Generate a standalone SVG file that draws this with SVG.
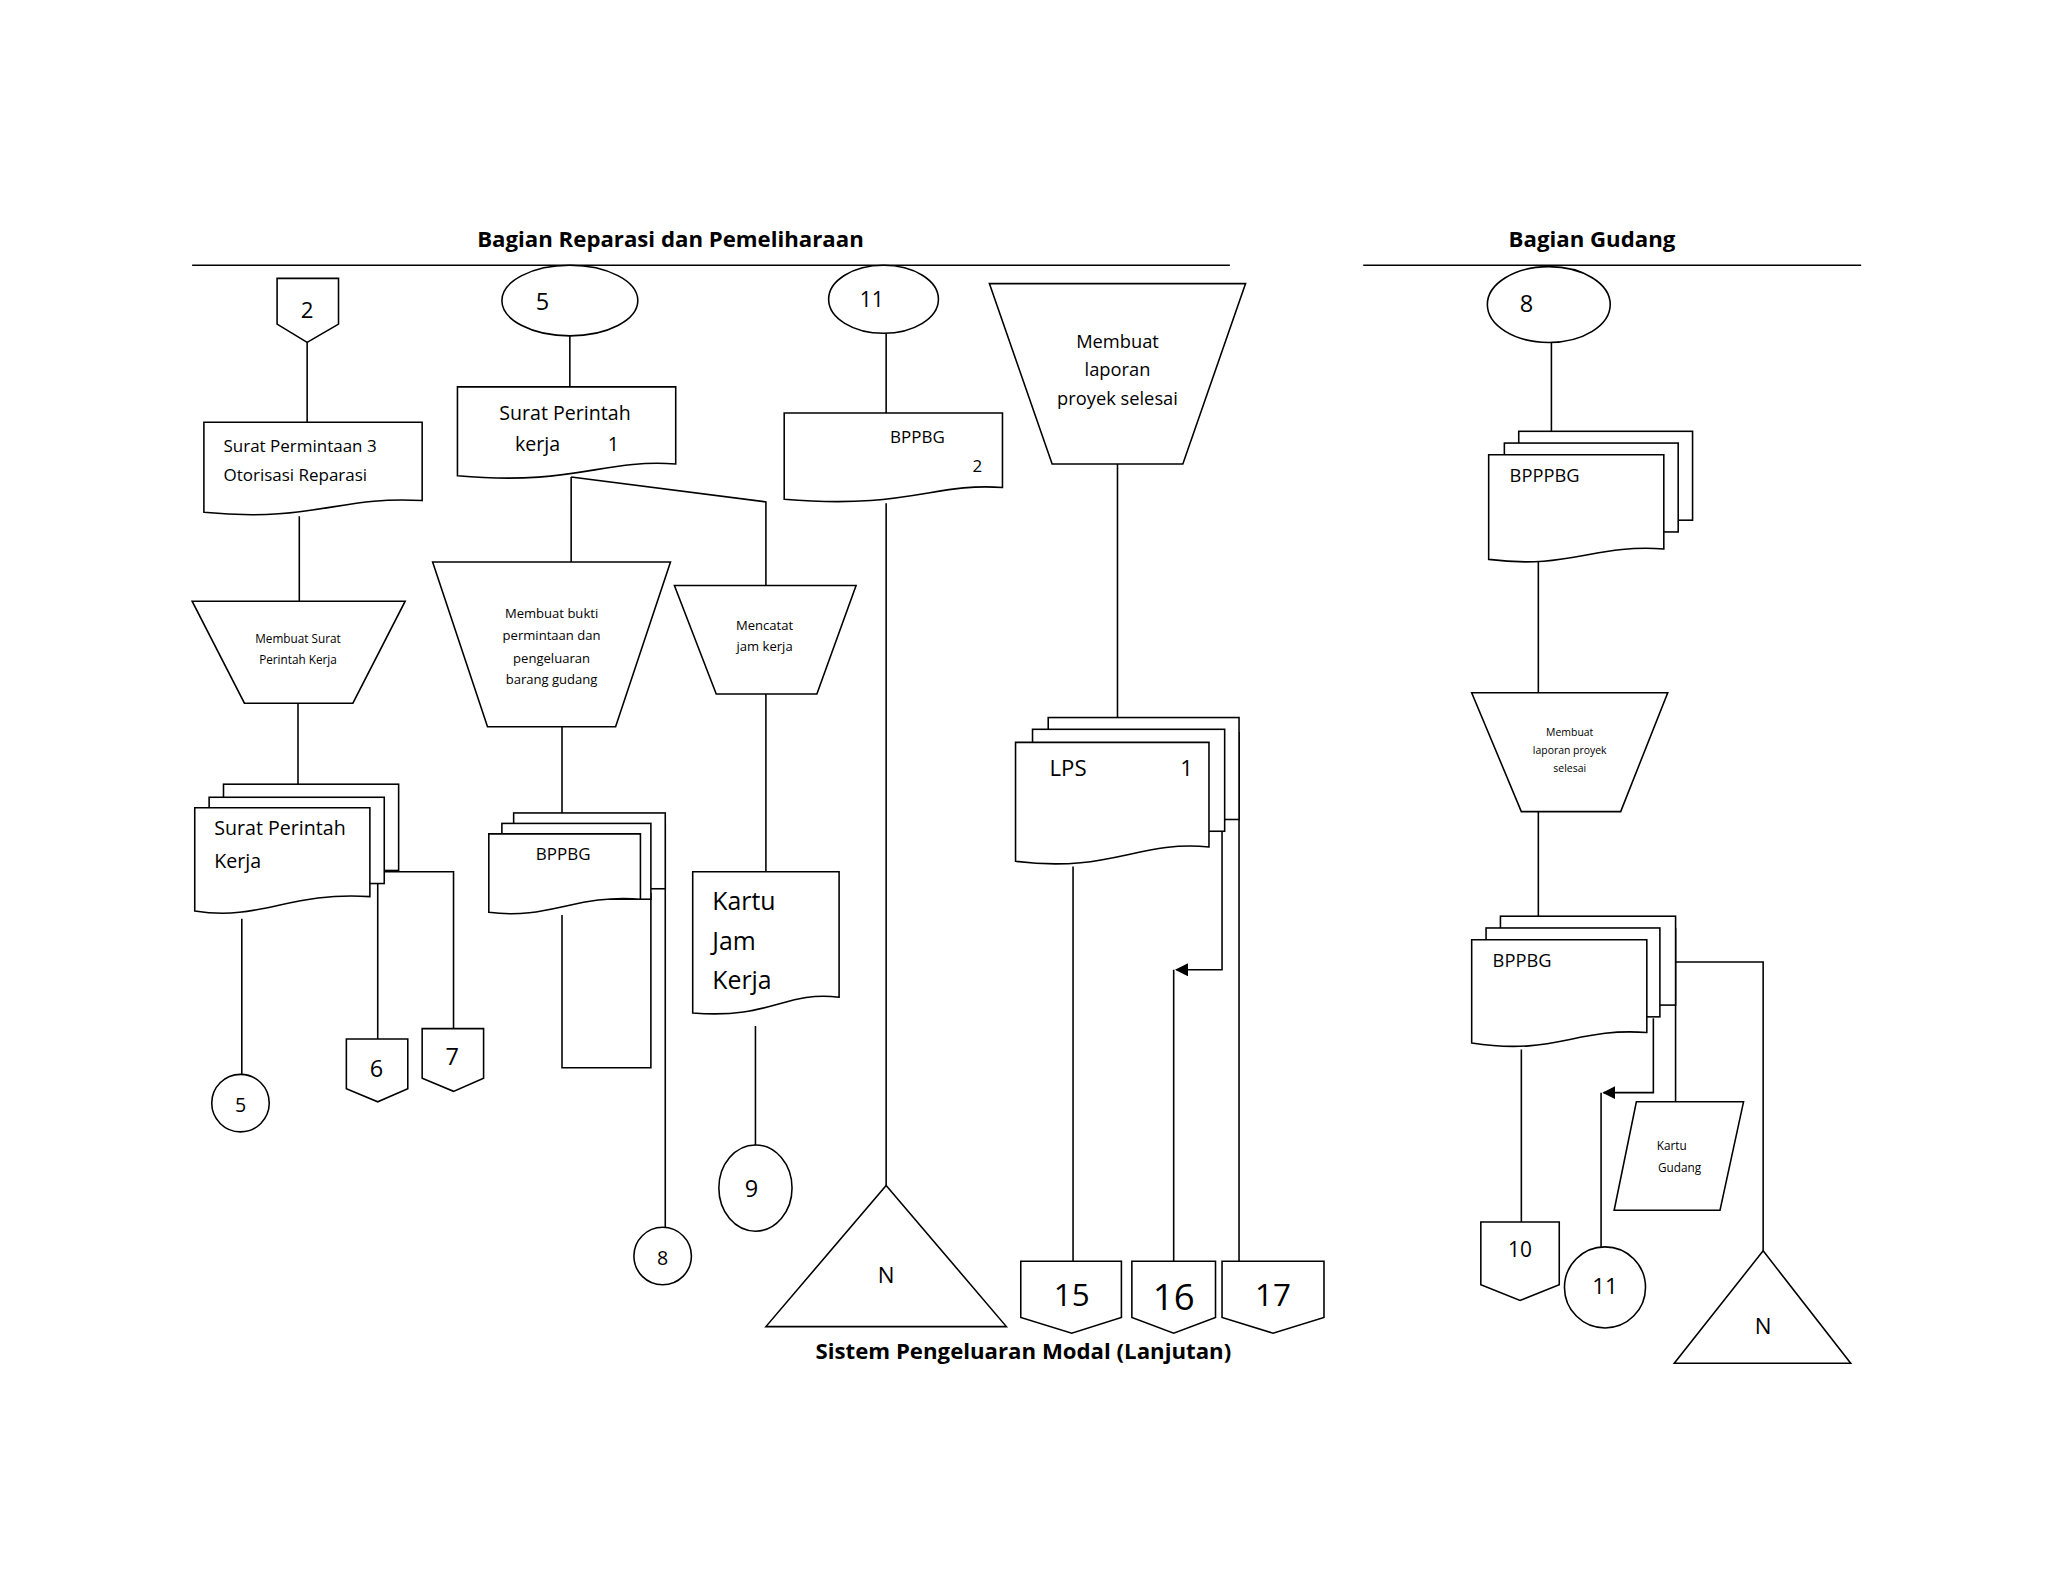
<svg xmlns="http://www.w3.org/2000/svg" width="2048" height="1582" viewBox="0 0 2048 1582">
<style>
.s{fill:#fff;stroke:#000;stroke-width:1.2}
.l{fill:none;stroke:#000;stroke-width:1.2}
text{font-family:"Open Sans","Liberation Sans",sans-serif;fill:#000}
.h{font-weight:bold;font-size:17px;text-anchor:middle}
.c{text-anchor:middle}
</style>
<defs><marker id="a" markerWidth="10" markerHeight="10" refX="9" refY="5" orient="auto" markerUnits="userSpaceOnUse"><path d="M0,0 L10,5 L0,10z"/></marker></defs>
<rect width="2048" height="1582" fill="#fff"/>
<g transform="scale(1.307)">
<g id="headers">
<text class="h" x="513" y="189">Bagian Reparasi dan Pemeliharaan</text>
<line class="l" x1="147" y1="203" x2="941" y2="203"/>
<text class="h" x="1218" y="189">Bagian Gudang</text>
<line class="l" x1="1043" y1="203" x2="1424" y2="203"/>
<text class="h" x="783" y="1040">Sistem Pengeluaran Modal (Lanjutan)</text>
</g>
<g id="connectors">
<path class="l" d="M235,262V323 M229,395V460 M228,538V600 M185,703V822 M289,676V795 M294,667H347V787"/>
<path class="l" d="M436,257V296 M437,365V430 M437,365L586,384V448 M430,556V622 M430,700V817H498V683 M509,630V939 M586,531V667 M578,785V876"/>
<path class="l" d="M678,255V316 M678,385V907 M855,355V549 M821,663V965 M898,742V965 M948,560V965"/>
<path class="l" d="M937,626H935V742H900" marker-end="url(#a)"/>
<path class="l" d="M1187,262V330 M1177,430V530 M1177,621V701 M1164,803V935 M1225,836V954 M1282,710V843 M1270,736H1349V957"/>
<path class="l" d="M1265,779V836H1227" marker-end="url(#a)"/>
</g>
<g id="n2"><path class="s" d="M212,213H259V248L235,262L212,248Z"/><text class="c" x="235" y="243" font-size="17">2</text></g>
<g id="spa"><path class="s" d="M156,323H323V383C260,379 240,400 156,392Z"/><text x="171" y="346" font-size="13">Surat  Permintaan    3</text><text x="171" y="368" font-size="13">Otorisasi Reparasi</text></g>
<g id="t1"><path class="s" d="M147,460H310L270,538H187Z"/><text class="c" x="228" y="492" font-size="9">Membuat Surat</text><text class="c" x="228" y="508" font-size="9">Perintah Kerja</text></g>
<g id="spk"><rect class="s" x="171" y="600" width="134" height="66"/><rect class="s" x="160" y="610" width="134" height="66"/><path class="s" d="M149,618H283V686C220,682 200,705 149,697Z"/><text x="164" y="639" font-size="15">Surat Perintah</text><text x="164" y="664" font-size="15">Kerja</text></g>
<g id="c5a"><circle class="s" cx="184" cy="844" r="22"/><text class="c" x="184" y="851" font-size="15">5</text></g>
<g id="p6"><path class="s" d="M265,795H312V833L289,843L265,833Z"/><text class="c" x="288" y="824" font-size="18">6</text></g>
<g id="p7"><path class="s" d="M323,787H370V825L347,835L323,825Z"/><text class="c" x="346" y="815" font-size="18">7</text></g>
<g id="e5"><ellipse class="s" cx="436" cy="230" rx="52" ry="27"/><text class="c" x="415" y="237" font-size="18">5</text></g>
<g id="spk1"><path class="s" d="M350,296H517V355C460,351 440,372 350,364Z"/><text x="382" y="321" font-size="15">Surat Perintah</text><text x="394" y="345" font-size="15">kerja</text><text x="465" y="345" font-size="15">1</text></g>
<g id="t2"><path class="s" d="M331,430H513L471,556H373Z"/><text class="c" x="422" y="473" font-size="10">Membuat bukti</text><text class="c" x="422" y="490" font-size="10">permintaan dan</text><text class="c" x="422" y="507" font-size="10">pengeluaran</text><text class="c" x="422" y="523" font-size="10">barang gudang</text></g>
<g id="bppbg1"><rect class="s" x="393" y="622" width="116" height="58"/><rect class="s" x="384" y="630" width="114" height="58"/><path class="s" d="M374,638H490V688C440,684 420,704 374,698Z"/><text x="410" y="658" font-size="13">BPPBG</text></g>
<g id="c8"><circle class="s" cx="507" cy="961" r="22"/><text class="c" x="507" y="968" font-size="15">8</text></g>
<g id="t3"><path class="s" d="M516,448H655L625,531H548Z"/><text class="c" x="585" y="482" font-size="10">Mencatat</text><text class="c" x="585" y="498" font-size="10">jam kerja</text></g>
<g id="kjk"><path class="s" d="M530,667H642V763C600,758 590,780 530,775Z"/><text x="545" y="696" font-size="19">Kartu</text><text x="545" y="727" font-size="19">Jam</text><text x="545" y="757" font-size="19">Kerja</text></g>
<g id="e9"><ellipse class="s" cx="578" cy="909" rx="28" ry="33"/><text class="c" x="575" y="916" font-size="18">9</text></g>
<g id="e11"><ellipse class="s" cx="676" cy="229" rx="42" ry="26"/><text class="c" x="667" y="235" font-size="16">11</text></g>
<g id="bppbg2"><path class="s" d="M600,316H767V373C715,369 695,390 600,382Z"/><text x="681" y="339" font-size="13">BPPBG</text><text x="744" y="361" font-size="13">2</text></g>
<g id="tn1"><path class="s" d="M678,907L770,1015H586Z"/><text class="c" x="678" y="982" font-size="17">N</text></g>
<g id="t4"><path class="s" d="M757,217H953L905,355H805Z"/><text class="c" x="855" y="266" font-size="14">Membuat</text><text class="c" x="855" y="288" font-size="14">laporan</text><text class="c" x="855" y="310" font-size="14">proyek selesai</text></g>
<g id="lps"><rect class="s" x="802" y="549" width="146" height="78"/><rect class="s" x="790" y="558" width="147" height="78"/><path class="s" d="M777,568H925V648C870,643 850,668 777,659Z"/><text x="803" y="594" font-size="17">LPS</text><text x="903" y="594" font-size="17">1</text></g>
<g id="p15"><path class="s" d="M781,965H858V1008L820,1020L781,1008Z"/><text class="c" x="820" y="999" font-size="24">15</text></g>
<g id="p16"><path class="s" d="M866,965H930V1008L898,1020L866,1008Z"/><text class="c" x="898" y="1002" font-size="28">16</text></g>
<g id="p17"><path class="s" d="M935,965H1013V1008L974,1020L935,1008Z"/><text class="c" x="974" y="999" font-size="24">17</text></g>
<g id="e8"><ellipse class="s" cx="1185" cy="233" rx="47" ry="29"/><text class="c" x="1168" y="239" font-size="18">8</text></g>
<g id="bpppbg"><rect class="s" x="1162" y="330" width="133" height="68"/><rect class="s" x="1151" y="339" width="133" height="68"/><path class="s" d="M1139,348H1273V420C1220,416 1200,436 1139,428Z"/><text x="1155" y="369" font-size="14">BPPPBG</text></g>
<g id="t5"><path class="s" d="M1126,530H1276L1240,621H1164Z"/><text class="c" x="1201" y="563" font-size="8">Membuat</text><text class="c" x="1201" y="577" font-size="8">laporan proyek</text><text class="c" x="1201" y="591" font-size="8">selesai</text></g>
<g id="bppbg3"><rect class="s" x="1148" y="701" width="134" height="68"/><rect class="s" x="1137" y="710" width="133" height="68"/><path class="s" d="M1126,719H1260V790C1205,786 1190,808 1126,798Z"/><text x="1142" y="740" font-size="14">BPPBG</text></g>
<g id="p10"><path class="s" d="M1133,935H1193V983L1163,995L1133,983Z"/><text class="c" x="1163" y="962" font-size="16">10</text></g>
<g id="c11"><circle class="s" cx="1228" cy="985" r="31"/><text class="c" x="1228" y="990" font-size="17">11</text></g>
<g id="kg"><path class="s" d="M1252,843H1334L1316,926H1235Z"/><text class="c" x="1279" y="880" font-size="9">Kartu</text><text class="c" x="1285" y="897" font-size="9">Gudang</text></g>
<g id="tn2"><path class="s" d="M1349,957L1416,1043H1281Z"/><text class="c" x="1349" y="1021" font-size="17">N</text></g>
</g>
</svg>
